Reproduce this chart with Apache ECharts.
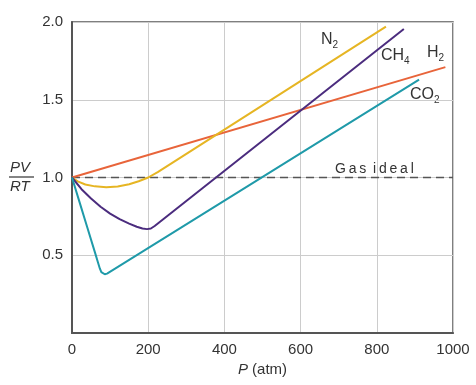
<!DOCTYPE html>
<html><head><meta charset="utf-8">
<script src="https://cdn.jsdelivr.net/npm/echarts@6/dist/echarts.min.js"></script>
<style>html,body{margin:0;padding:0;background:#fff}#c{width:476px;height:385px}</style>
</head><body><div id="c"></div>
<script>
// Data (P in atm, PV/RT)
const xTicks = [0, 200, 400, 600, 800, 1000];
const yTicks = [0.5, 1.0, 1.5, 2.0];
const h2 = [[0, 1.0], [980, 1.71]];
const n2 = [[0, 1.0], [15, 0.975], [35, 0.955], [60, 0.943], [90, 0.938], [120, 0.942], [150, 0.957], [175, 0.976], [200, 1.0], [225, 1.035], [824, 1.97]];
const ch4 = [[0, 1.0], [25, 0.925], [50, 0.865], [75, 0.812], [100, 0.768], [125, 0.732], [150, 0.703], [170, 0.683], [185, 0.672], [197, 0.668], [207, 0.672], [217, 0.688], [871, 1.955]];
const co2 = [[0, 1.0], [20, 0.84], [40, 0.68], [60, 0.52], [68, 0.455], [73, 0.415], [77, 0.392], [81, 0.381], [86, 0.378], [92, 0.382], [911, 1.63]];
const ideal = [[0, 1.0], [1000, 1.0]];

const chart = echarts.init(document.getElementById('c'), null, {renderer: 'canvas'});
const font = '"Liberation Sans", Arial, sans-serif';
const mk = (name, data, color) => ({
  name, type: 'line', data, symbol: 'none', smooth: false,
  lineStyle: {color, width: 2}, z: 3
});
const sub = (main, s) => ({
  text: '{a|' + main + '}{b|' + s + '}',
  rich: {
    a: {fontSize: 16, fontFamily: font, fill: '#333', lineHeight: 20},
    b: {fontSize: 10, fontFamily: font, fill: '#333', lineHeight: 20, padding: [11, 0, 0, 0]}
  }
});
chart.setOption({
  animation: false,
  backgroundColor: '#fff',
  grid: {left: 72, right: 23, top: 22, bottom: 52, show: true, borderColor: '#555', borderWidth: 1.5, backgroundColor: 'transparent'},
  xAxis: {
    type: 'value', min: xTicks[0], max: xTicks[xTicks.length - 1], interval: 200,
    name: '{i|P} (atm)', nameLocation: 'middle', nameGap: 27,
    nameTextStyle: {fontSize: 15, fontFamily: font, color: '#333', rich: {i: {fontSize: 15, fontStyle: 'italic', fontFamily: font, color: '#333'}}},
    axisLine: {lineStyle: {color: '#555', width: 2}},
    axisTick: {show: false},
    axisLabel: {fontSize: 15, fontFamily: font, color: '#333', margin: 9, formatter: v => String(v)},
    splitLine: {lineStyle: {color: '#ccc', width: 1}}
  },
  yAxis: {
    type: 'value', min: 0, max: 2, interval: 0.5,
    axisLine: {show: true, lineStyle: {color: '#555', width: 2}},
    axisTick: {show: false},
    axisLabel: {fontSize: 15, fontFamily: font, color: '#333', margin: 9,
      formatter: v => (yTicks.indexOf(v) >= 0 ? v.toFixed(1) : '')},
    splitLine: {lineStyle: {color: '#ccc', width: 1}}
  },
  series: [
    {name: 'ideal', type: 'line', data: ideal, symbol: 'none', lineStyle: {color: '#555', width: 1.5, type: [8, 5]}, z: 2},
    mk('H2', h2, '#e8643a'),
    mk('N2', n2, '#e6b523'),
    mk('CH4', ch4, '#4b2c7e'),
    mk('CO2', co2, '#1f9aa9')
  ],
  graphic: [
    {type: 'text', left: 321, top: 29, style: sub('N', '2')},
    {type: 'text', left: 381, top: 45, style: sub('CH', '4')},
    {type: 'text', left: 427, top: 42, style: sub('H', '2')},
    {type: 'text', left: 410, top: 84, style: sub('CO', '2')},
    {type: 'text', left: 335, top: 162, style: {text: 'G\u2009a\u2009s\u2009 i\u2009d\u2009e\u2009a\u2009l', fontSize: 14, fontFamily: font, fill: '#333'}},
    {type: 'text', left: 10, top: 160, style: {text: 'PV', fontSize: 15, fontStyle: 'italic', fontFamily: font, fill: '#333'}},
    {type: 'line', shape: {x1: 9, y1: 177, x2: 34, y2: 177}, style: {stroke: '#333', lineWidth: 1.2}},
    {type: 'text', left: 10, top: 179, style: {text: 'RT', fontSize: 15, fontStyle: 'italic', fontFamily: font, fill: '#333'}}
  ]
});
</script></body></html>
